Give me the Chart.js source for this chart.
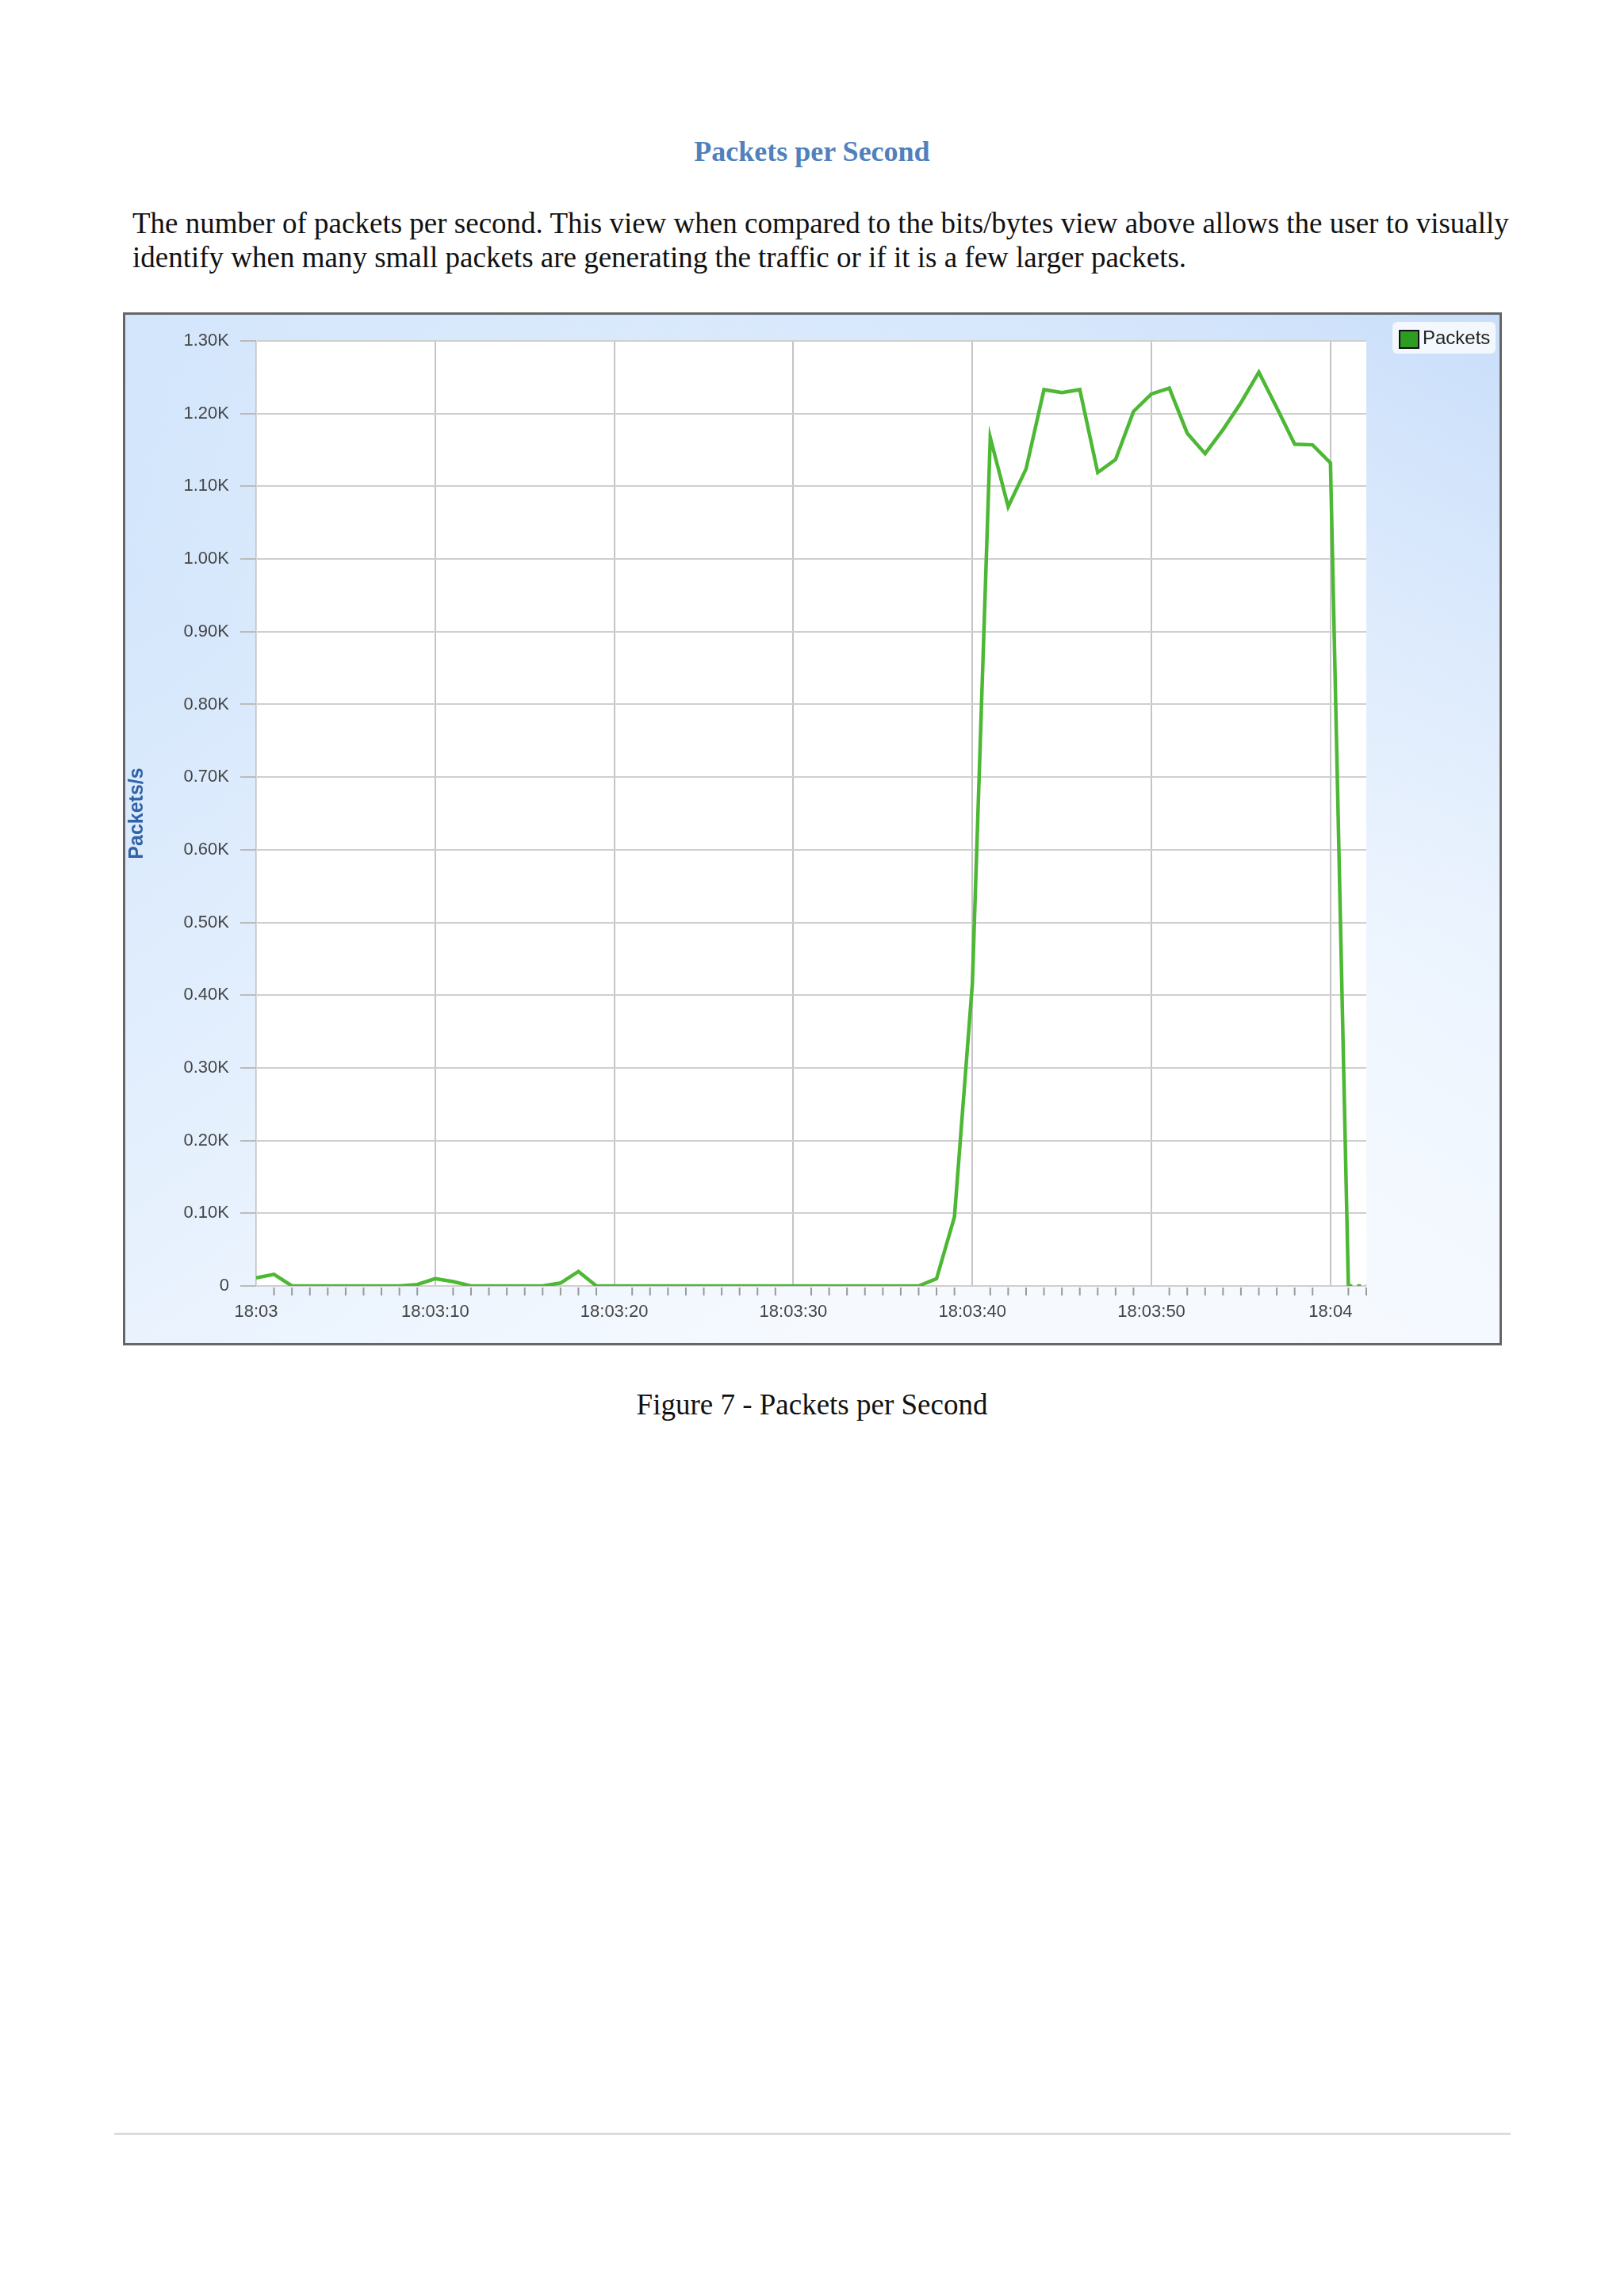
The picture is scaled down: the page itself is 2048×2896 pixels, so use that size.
<!DOCTYPE html>
<html><head><meta charset="utf-8">
<script src="https://cdn.jsdelivr.net/npm/chart.js@4"></script>
<style>
body{margin:0;width:2048px;height:2896px;background:#fff;position:relative;font-family:"Liberation Serif",serif;}
#title{position:absolute;top:170px;left:0;width:2048px;text-align:center;color:#4f81bd;font-weight:bold;font-size:36px;font-family:"Liberation Serif",serif;}
#para{position:absolute;top:260px;left:167px;width:1740px;font-size:37px;line-height:43px;color:#111;font-family:"Liberation Serif",serif;}
#frame{position:absolute;left:155px;top:394px;width:1733px;height:1297px;border:3px solid #666;}
#cap{position:absolute;top:1750px;left:0;width:2048px;text-align:center;font-size:37px;color:#111;font-family:"Liberation Serif",serif;}
#foot{position:absolute;top:2690px;left:144px;width:1761px;height:3px;background:#ddd;}
#leg{position:absolute;left:1598px;top:9px;width:130px;height:40px;background:#f3f8fe;border-radius:6px;font:24px "Liberation Sans",Arial,sans-serif;color:#222;line-height:40px;}
#leg span.b{position:absolute;left:8px;top:10px;width:22px;height:20px;background:#2e9b22;border:2px solid #111;}
#leg span.t{position:absolute;left:38px;}
</style></head><body>
<div id="title">Packets per Second</div>
<div id="para">The number of packets per second. This view when compared to the bits/bytes view above allows the user to visually identify when many small packets are generating the traffic or if it is a few larger packets.</div>
<div id="frame"><canvas id="c" width="1733" height="1297"></canvas><div id="leg"><span class="b"></span><span class="t">Packets</span></div></div>
<div id="cap">Figure 7 - Packets per Second</div>
<div id="foot"></div>
<script>
const seconds = Array.from({length:63},(_,i)=>i);
const packets = [11,16,0,0,0,0,0,0,0,2,10,6,0,0,0,0,0,4,20,0,
0,0,0,0,0,0,0,0,0,0,0,0,0,0,0,0,0,0,10,95,
416,1167,1072,1124,1233,1229,1233,1119,1137,1203,1227,1235,1173,1145,1178,1215,1257,1208,1158,1157,
1132,0,0];
const xTickLabels = {0:'18:03',10:'18:03:10',20:'18:03:20',30:'18:03:30',40:'18:03:40',50:'18:03:50',60:'18:04'};
const yTickLabels = v => v===0?'0':(v/1000).toFixed(2)+'K';

const bg = {id:'bg',beforeDraw(ch){const {ctx,chartArea:a,width,height}=ch;
 let g=ctx.createLinearGradient(0,0,width*0.5,height);g.addColorStop(0,'#cde2fb');g.addColorStop(1,'#f6faff');
 ctx.fillStyle=g;ctx.fillRect(0,0,width,height);
 let g2=ctx.createLinearGradient(width,0,width*0.6,height*0.8);g2.addColorStop(0,'#c9defa');g2.addColorStop(1,'rgba(240,247,255,0)');
 ctx.fillStyle=g2;ctx.fillRect(0,0,width,height);
 ctx.fillStyle='#fff';ctx.fillRect(a.left,a.top,a.right-a.left,a.bottom-a.top);}};
const font={family:'"Liberation Sans",Arial,sans-serif',size:22};
new Chart(document.getElementById('c'),{type:'line',
 data:{labels:seconds,datasets:[{label:'Packets',data:seconds.map((s,i)=>({x:s,y:packets[i]})),borderColor:'#4cb833',borderWidth:4.5,pointRadius:0,tension:0,
  segment:{borderDash:c=>c.p0DataIndex>=61?[5,6]:undefined}}]},
 options:{responsive:false,animation:false,layout:{padding:{top:33,right:168,left:0,bottom:0}},
  plugins:{legend:{display:false},tooltip:{enabled:false}},
  scales:{
   x:{type:'linear',min:0,max:62,afterFit(s){s.height=72;},
    afterBuildTicks(s){s.ticks=seconds.map(v=>({value:v}));},
    grid:{color:c=>c.tick&&c.tick.value%10===0?'#c4c4c4':'rgba(0,0,0,0)',lineWidth:2,drawTicks:false},
    border:{display:false},
    ticks:{autoSkip:false,maxRotation:0,color:'#444',font,padding:20,callback:v=>xTickLabels[v]??''}},
   y:{min:0,max:1300,afterFit(s){s.width=165;},
    afterBuildTicks(s){s.ticks=Array.from({length:14},(_,i)=>({value:i*100}));},
    grid:{color:'#cfcfcf',lineWidth:2,tickLength:20,tickColor:'#bbb'},border:{display:true,color:'#d8d8d8'},
    ticks:{color:'#444',font,padding:14,callback:yTickLabels},
    title:{display:true,text:'Packets/s',color:'#2f62a8',font:{family:'"Liberation Sans",Arial,sans-serif',size:25,weight:'bold'},padding:{top:0,bottom:30}}}}},
 plugins:[bg,{id:'minor',afterDatasetsDraw(ch){const {ctx,scales:{x},chartArea:a}=ch;ctx.save();ctx.strokeStyle='#999';ctx.lineWidth=2;
  seconds.forEach(s=>{if(s%10){const px=x.getPixelForValue(s);ctx.beginPath();ctx.moveTo(px,a.bottom+2);ctx.lineTo(px,a.bottom+12);ctx.stroke();}});ctx.restore();}}]});
</script></body></html>
